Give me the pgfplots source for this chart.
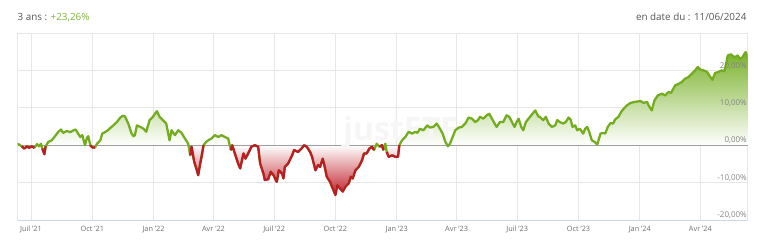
\documentclass[border=0pt]{standalone}
\usepackage{pgfplots}
\pgfplotsset{compat=1.18}
\usepackage{pgfplotstable}
\usepackage{fontspec}
\setmainfont{Open Sans}
\definecolor{lgreen}{RGB}{116,172,32}
\definecolor{lred}{RGB}{188,28,38}
\definecolor{fgreen}{RGB}{122,178,42}
\definecolor{fred}{RGB}{192,32,42}
\definecolor{gridc}{RGB}{230,230,230}
\definecolor{axisc}{RGB}{204,214,235}
\definecolor{txt}{RGB}{85,85,85}
\definecolor{tickc}{RGB}{110,110,110}
\definecolor{ttlgreen}{RGB}{125,180,60}
% data range -13.3 .. 24.9 -> zero at fraction 0.348 of the box
\pgfdeclareverticalshading{rwg}{100bp}{color(0bp)=(fred); color(25bp)=(fred); color(42.41bp)=(white); color(75bp)=(fgreen); color(100bp)=(fgreen)}

\pgfplotsset{
  common/.style={
    at={(13.275pt,18pt)}, anchor=south west,
    width=547.5pt, height=140.25pt, scale only axis,
    xmin=0, xmax=1096, ymin=-20, ymax=30,
    ytick={-20,-10,0,10,20},
    major tick length=0pt,
    tick style={draw=none},
  }
}

\pgfplotstableread{
d v
0 0.0
1 0.3
6 -0.3
10 -0.9
14 -0.3
17 -0.7
21 -0.3
25 -0.7
29 0.3
32 -0.3
35 0.4
37 -0.9
40 -2.4
42 -0.3
46 0.9
51 1.3
56 2.4
61 3.6
65 4.2
68 3.3
74 3.8
79 3.5
84 4.0
87 4.2
90 3.3
94 2.2
97 2.7
101 0.0
104 2.0
106 2.4
109 0.0
112 -0.6
116 -0.6
119 0.4
124 1.3
127 3.1
134 3.8
141 4.9
149 6.2
154 7.4
158 7.9
161 7.7
166 5.8
171 3.1
174 2.4
176 2.7
179 5.3
184 4.9
189 4.4
193 3.6
198 6.7
203 7.6
208 8.9
209 9.1
213 7.6
218 6.7
223 5.8
228 1.3
231 4.0
236 2.7
241 4.0
246 3.3
251 1.8
256 0.4
259 -2.7
261 -0.4
265 -4.4
269 -6.7
271 -8.0
274 -4.9
276 -3.1
279 0.0
283 0.9
286 1.3
291 1.8
296 2.7
301 2.2
306 2.7
311 2.2
316 1.8
320 -1.3
322 0.0
326 -2.2
331 -4.9
334 -6.2
339 -2.2
342 -3.6
346 -2.2
351 -0.4
356 0.0
361 -0.4
364 -4.9
369 -7.6
371 -9.3
376 -9.1
380 -7.1
384 -8.0
389 -9.8
392 -6.7
397 -7.6
399 -8.9
401 -5.8
406 -4.9
412 -2.7
415 -1.3
421 -1.8
426 -0.9
430 0.0
434 -0.4
439 -1.8
442 -3.1
447 -6.7
451 -5.3
454 -5.8
458 -3.6
461 -5.8
464 -8.4
469 -9.8
474 -12.0
477 -13.3
480 -10.7
484 -11.6
488 -12.4
492 -11.1
497 -10.2
500 -8.4
503 -8.9
507 -6.7
512 -5.8
517 -4.0
520 -2.2
524 -2.2
528 -0.9
532 -0.4
535 -1.3
539 0.4
543 -0.4
547 0.0
549 -1.3
552 0.4
554 -1.8
557 -3.1
562 -2.7
567 -3.1
571 -3.1
573 0.0
577 1.3
582 2.2
587 3.6
592 3.1
597 3.6
600 3.3
604 4.4
609 4.0
615 5.3
619 4.7
624 4.9
629 5.8
631 5.3
634 4.4
638 3.1
642 0.9
646 -0.3
649 0.4
653 2.2
657 4.0
662 4.7
667 4.9
672 5.8
677 7.4
682 7.1
687 6.2
691 6.7
694 7.6
699 7.1
704 8.0
708 8.4
712 7.1
716 5.8
719 4.9
724 6.2
729 6.2
734 8.0
738 7.6
742 6.2
746 4.9
749 6.2
752 7.1
756 4.9
759 4.0
763 6.2
767 7.1
771 8.0
777 9.3
782 7.6
784 7.6
789 6.7
793 7.6
797 5.8
802 4.9
807 5.3
810 6.7
814 6.2
819 5.8
823 6.2
827 7.4
830 6.9
833 4.9
837 5.3
840 4.0
844 4.4
849 3.1
852 4.4
855 4.9
858 3.6
862 1.3
866 0.9
870 0.2
872 1.3
875 3.1
879 3.3
882 3.1
886 4.9
890 5.9
894 5.8
897 6.9
902 7.6
906 8.9
910 9.8
915 10.7
920 11.3
927 11.6
935 11.8
940 11.3
945 11.6
947 10.7
952 9.3
956 12.0
961 13.3
967 13.8
972 13.3
977 14.2
981 14.0
987 16.0
992 16.4
997 16.9
1002 17.8
1007 18.2
1012 19.1
1017 20.0
1021 20.9
1025 20.2
1030 20.0
1035 19.6
1040 18.2
1043 17.5
1047 19.3
1052 19.6
1057 20.0
1061 19.8
1063 21.3
1066 24.0
1071 24.3
1076 23.5
1081 24.0
1084 23.1
1088 23.5
1091 24.4
1093 24.9
1096 23.3
}\curve

\begin{document}
\begin{tikzpicture}
\useasboundingbox (0,0) rectangle (576pt,183pt);
\node[anchor=base west, inner sep=0pt, font=\fontsize{7.4}{9}\selectfont] at (13pt,168pt) {\textcolor{txt}{3 ans :} \textcolor{ttlgreen}{+23,26\%}};
\node[anchor=base east, inner sep=0pt, font=\fontsize{7.4}{9}\selectfont, text=txt] at (560pt,168pt) {en date du : 11/06/2024};
\begin{axis}[
  common,
  xtick={20,112,204,294,385,477,569,659,750,842,934,1025},
  xticklabels={Juil '21,Oct '21,Jan '22,Avr '22,Juil '22,Oct '22,Jan '23,Avr '23,Juil '23,Oct '23,Jan '24,Avr '24},
  yticklabels={},
  xticklabel style={font=\fontsize{5.5}{6}\selectfont, text=tickc, inner sep=0pt, yshift=-4.5pt},
  grid=major,
  major grid style={gridc, line width=0.75pt},
  axis line style={gridc, line width=0.75pt},
]
\addplot[draw=none, shade, shading=rwg, forget plot] table[x=d, y=v] {\curve} -- (axis cs:1096,0) -- (axis cs:0,0) -- cycle;
\addplot[gray!75, line width=0.75pt, forget plot] coordinates {(0,0) (1096,0)};
\addplot[axisc, line width=0.75pt, forget plot] coordinates {(0,-20) (1096,-20)};
\node[text=gray!7, font=\fontsize{24}{24}\selectfont\bfseries] at (axis cs:575,3.5) {justETF};
\addplot[lgreen, line width=1.7pt, line join=round] table[x=d, y=v] {\curve};
\addplot[lred, line width=1.7pt, line join=round, restrict y to domain=-30:0.01, unbounded coords=jump] table[x=d, y=v] {\curve};
\end{axis}
\begin{axis}[
  common,
  xtick=\empty,
  yticklabels={{-20,00\%},{-10,00\%},{0,00\%},{10,00\%},{20,00\%}},
  yticklabel pos=right,
  yticklabel style={font=\fontsize{6}{7}\selectfont, text=tickc!85, inner sep=0pt, anchor=south east, xshift=-0.5pt, yshift=0.8pt},
  axis line style={draw=none},
]
\end{axis}
\end{tikzpicture}
\end{document}
